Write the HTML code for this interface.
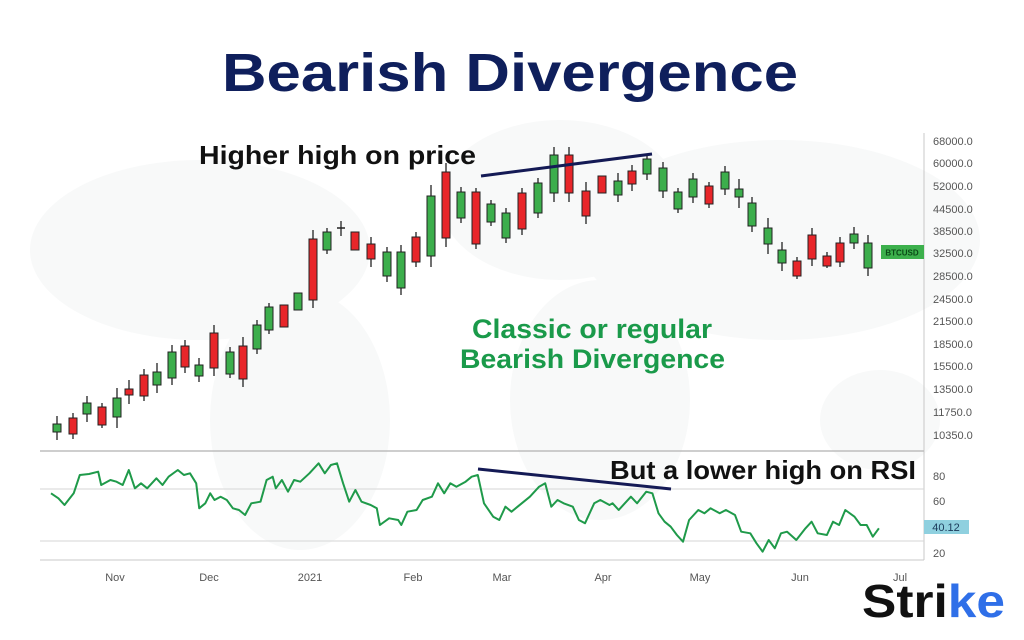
<!DOCTYPE html>
<html><head><meta charset="utf-8"><style>
html,body{margin:0;padding:0;background:#fff;width:1024px;height:640px;overflow:hidden}
svg{display:block}
text{font-family:"Liberation Sans",sans-serif}
</style></head><body>
<svg id="s" width="1024" height="640" viewBox="0 0 1024 640" xmlns="http://www.w3.org/2000/svg">
<rect width="1024" height="640" fill="#fff"/>
<g fill="#f8f9f9">
<ellipse cx="200" cy="250" rx="170" ry="90"/>
<ellipse cx="300" cy="420" rx="90" ry="130"/>
<ellipse cx="560" cy="200" rx="120" ry="80"/>
<ellipse cx="780" cy="240" rx="200" ry="100"/>
<ellipse cx="600" cy="400" rx="90" ry="120"/>
<ellipse cx="880" cy="420" rx="60" ry="50"/>
</g>
<text x="222" y="91" textLength="576" lengthAdjust="spacingAndGlyphs" font-size="54" font-weight="bold" fill="#0f1f5c">Bearish Divergence</text>
<line x1="924" y1="133" x2="924" y2="560" stroke="#c8c8c8" stroke-width="1"/>
<line x1="40" y1="451" x2="924" y2="451" stroke="#bdbdbd" stroke-width="1.5"/>
<line x1="40" y1="489" x2="924" y2="489" stroke="#d6d6d6" stroke-width="1"/>
<line x1="40" y1="541" x2="924" y2="541" stroke="#d6d6d6" stroke-width="1"/>
<line x1="40" y1="560" x2="924" y2="560" stroke="#c8c8c8" stroke-width="1"/>
<g font-size="11" fill="#555">
<text x="933" y="145">68000.0</text><text x="933" y="167">60000.0</text><text x="933" y="190">52000.0</text>
<text x="933" y="213">44500.0</text><text x="933" y="235">38500.0</text><text x="933" y="257">32500.0</text>
<text x="933" y="280">28500.0</text><text x="933" y="303">24500.0</text><text x="933" y="325">21500.0</text>
<text x="933" y="348">18500.0</text><text x="933" y="370">15500.0</text><text x="933" y="393">13500.0</text>
<text x="933" y="416">11750.0</text><text x="933" y="439">10350.0</text>
<text x="933" y="480">80</text><text x="933" y="505">60</text><text x="933" y="557">20</text>
</g>
<rect x="881" y="245" width="43" height="14" fill="#3cb04c"/>
<text x="902" y="255.5" text-anchor="middle" font-size="8" font-weight="bold" fill="#0b4a17">BTCUSD</text>
<rect x="924" y="520" width="45" height="14" fill="#8fd0df"/>
<text x="946" y="531" text-anchor="middle" font-size="11" fill="#1a3a5a">40.12</text>
<g font-size="11" fill="#555" text-anchor="middle">
<text x="115" y="581">Nov</text><text x="209" y="581">Dec</text><text x="310" y="581">2021</text>
<text x="413" y="581">Feb</text><text x="502" y="581">Mar</text><text x="603" y="581">Apr</text>
<text x="700" y="581">May</text><text x="800" y="581">Jun</text><text x="900" y="581">Jul</text>
</g>
<g id="candles"></g>
<polyline id="rsi" fill="none" stroke="#1f9a4a" stroke-width="2" stroke-linejoin="round"/>
<line x1="481" y1="176" x2="652" y2="154" stroke="#141a55" stroke-width="3"/>
<line x1="478" y1="469" x2="671" y2="489" stroke="#141a55" stroke-width="3"/>
<text x="199" y="164" textLength="277" lengthAdjust="spacingAndGlyphs" font-size="26" font-weight="bold" fill="#111">Higher high on price</text>
<text x="610" y="479" textLength="306" lengthAdjust="spacingAndGlyphs" font-size="26" font-weight="bold" fill="#111">But a lower high on RSI</text>
<text x="472" y="338" textLength="240" lengthAdjust="spacingAndGlyphs" font-size="27" font-weight="bold" fill="#1a9a4a">Classic or regular</text>
<text x="460" y="368" textLength="265" lengthAdjust="spacingAndGlyphs" font-size="27" font-weight="bold" fill="#1a9a4a">Bearish Divergence</text>
<text x="862" y="617" textLength="143" lengthAdjust="spacingAndGlyphs" font-size="46" font-weight="bold" fill="#111">Stri<tspan fill="#2f6fe8">ke</tspan></text>
</svg>
<script>
var C=[[57,'g',424,432,416,440],[73,'r',418,434,413,439],[87,'g',403,414,396,422],[102,'r',407,425,403,428],[117,'g',398,417,388,428],[129,'r',389,395,380,404],[144,'r',375,396,369,401],[157,'g',372,385,363,393],[172,'g',352,378,345,385],[185,'r',346,367,340,373],[199,'g',365,376,358,382],[214,'r',333,368,325,376],[230,'g',352,374,347,378],[243,'r',346,379,337,387],[257,'g',325,349,320,354],[269,'g',307,330,303,334],[284,'r',305,327,305,327],[298,'g',293,310,293,310],[313,'r',239,300,230,308],[327,'g',232,250,228,254],[341,'d',228,229,221,236],[355,'r',232,250,232,250],[371,'r',244,259,237,267],[387,'g',252,276,247,282],[401,'g',252,288,245,295],[416,'r',237,262,232,267],[431,'g',196,256,185,267],[446,'r',172,238,163,247],[461,'g',192,218,187,223],[476,'r',192,244,188,249],[491,'g',204,222,200,226],[506,'g',213,238,208,243],[522,'r',193,229,188,235],[538,'g',183,213,178,218],[554,'g',155,193,147,202],[569,'r',155,193,147,202],[586,'r',191,216,182,224],[602,'r',176,193,176,193],[618,'g',181,195,173,202],[632,'r',171,184,165,191],[647,'g',159,174,155,180],[663,'g',168,191,162,198],[678,'g',192,209,188,213],[693,'g',179,197,173,203],[709,'r',186,204,182,208],[725,'g',172,189,166,195],[739,'g',189,197,179,208],[752,'g',203,226,197,232],[768,'g',228,244,218,254],[782,'g',250,263,242,271],[797,'r',261,276,257,279],[812,'r',235,259,228,266],[827,'r',256,266,252,268],[840,'r',243,262,237,267],[854,'g',234,243,227,249],[868,'g',243,268,235,276]];
var h='';C.forEach(function(c){var f=c[1]=='g'?'#3cae4c':c[1]=='r'?'#e8262a':'#222';
h+='<line x1="'+c[0]+'" y1="'+c[4]+'" x2="'+c[0]+'" y2="'+c[5]+'" stroke="#222" stroke-width="1.3"/>';
if(c[1]=='d')h+='<line x1="'+(c[0]-4)+'" y1="'+c[2]+'" x2="'+(c[0]+4)+'" y2="'+c[2]+'" stroke="#222" stroke-width="1.5"/>';
else h+='<rect x="'+(c[0]-4)+'" y="'+c[2]+'" width="8" height="'+(c[3]-c[2])+'" fill="'+f+'" stroke="#222" stroke-width="1"/>';});
document.getElementById('candles').innerHTML=h;
var P=[18,130,30,145,40,165,55,130,65,75,80,72,95,65,100,105,115,90,125,95,135,105,145,60,155,115,165,100,175,115,190,85,200,105,210,80,225,60,235,75,245,70,255,100,260,175,270,160,278,130,285,150,295,140,305,150,315,175,325,180,335,195,345,160,360,155,370,90,380,80,385,115,395,90,405,125,415,90,425,95,440,70,455,40,465,70,475,45,485,40,495,100,505,155,515,120,525,155,540,165,550,175,555,225,570,205,585,210,590,225,600,185,615,180,625,150,640,140,650,100,660,130,670,100,680,110,695,95,705,80,715,75,725,160,740,200,750,210,760,170,770,185,780,170,800,140,815,110,825,100,835,170,845,150,855,160,870,170,880,210,890,220,905,160,915,150,930,165,935,160,945,180,955,160,965,140,975,160,990,125,1000,130,1010,190,1020,215,1030,230,1040,255,1050,275,1060,210,1075,180,1085,190,1095,175,1110,190,1120,180,1135,195,1145,245,1160,250,1170,280,1180,305,1190,270,1200,295,1210,250,1220,245,1235,270,1250,235,1260,215,1270,250,1285,255,1295,215,1305,225,1315,180,1330,200,1340,225,1350,225,1360,260,1370,235];
var s='';for(var i=0;i<P.length;i+=2){s+=(40+P[i]/1.633).toFixed(1)+','+(450+P[i+1]/3).toFixed(1)+' ';}
document.getElementById('rsi').setAttribute('points',s);
</script>
</body></html>
